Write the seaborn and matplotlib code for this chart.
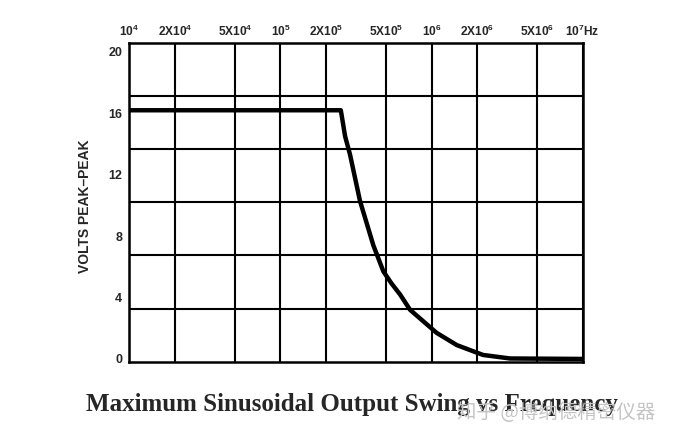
import numpy as np
import pandas as pd
import seaborn as sns
from matplotlib import pyplot as plt
from matplotlib.ticker import FixedLocator, NullLocator

# curve
freq_hz = [1e4, 2.51e5, 2.68e5, 2.89e5, 3.36e5, 4.12e5, 4.80e5, 5.45e5,
           6.19e5, 7.21e5, 1.08e6, 1.47e6, 2.19e6, 3.3e6, 1e7]
volts_pp = [16.2, 16.2, 14.5, 13.3, 10.3, 7.4, 5.7, 4.9,
            4.2, 3.2, 1.7, 0.9, 0.26, 0.03, 0.0]

freq_ticks = [1e4, 2e4, 5e4, 1e5, 2e5, 5e5, 1e6, 2e6, 5e6, 1e7]
freq_labels = ['10$^4$', '2X10$^4$', '5X10$^4$', '10$^5$', '2X10$^5$',
               '5X10$^5$', '10$^6$', '2X10$^6$', '5X10$^6$', '10$^7$Hz']
volt_ticks = [0, 4, 8, 12, 16, 20]

df = pd.DataFrame({'freq': freq_hz, 'volts': volts_pp})

sns.set_style('white')
plt.rcParams['font.family'] = ['Liberation Sans', 'Noto Sans CJK SC', 'DejaVu Sans']
plt.rcParams['mathtext.fontset'] = 'custom'
plt.rcParams['mathtext.rm'] = 'Liberation Sans:bold'
plt.rcParams['mathtext.it'] = 'Liberation Sans:bold'
plt.rcParams['mathtext.bf'] = 'Liberation Sans:bold'

fig = plt.figure(figsize=(6.73, 4.45), dpi=100)
ax = fig.add_axes([0.1921, 0.1872, 0.6737, 0.7168])

sns.lineplot(data=df, x='freq', y='volts', ax=ax, color='black', lw=3.2)

ax.set_xscale('log')
ax.set_xlim(1e4, 1e7)
y_lo, y_hi = -0.18, 20.6
ax.set_ylim(y_lo, y_hi)

# x axis labels on top, grid on every tick
ax.xaxis.tick_top()
ax.xaxis.set_major_locator(FixedLocator(freq_ticks))
ax.xaxis.set_minor_locator(NullLocator())
ax.set_xticklabels(freq_labels, fontsize=8.6, fontweight='bold')
ax.tick_params(axis='x', length=0, pad=3)
ax.grid(axis='x', which='major', color='black', lw=1.5)

# y labels don't sit on the grid rows in the scan: 6 equal rows
ax.yaxis.set_major_locator(FixedLocator(volt_ticks))
ax.set_yticklabels([str(v) for v in volt_ticks], fontsize=9, fontweight='bold')
ax.yaxis.set_minor_locator(FixedLocator(np.linspace(y_lo, y_hi, 7)[1:-1]))
ax.tick_params(axis='y', which='both', length=0, pad=5)
ax.grid(axis='y', which='minor', color='black', lw=1.5)
ax.grid(axis='y', which='major', visible=False)

ax.set_xlabel('')
ax.set_ylabel('VOLTS PEAK–PEAK', fontsize=10, fontweight='bold')
ax.yaxis.set_label_coords(-0.082, 0.488)

for s in ax.spines.values():
    s.set_color('black')
    s.set_linewidth(1.8)

fig.text(86 / 673, 1 - 405 / 445, 'Maximum Sinusoidal Output Swing vs Frequency',
         family='Liberation Serif', fontweight='bold', fontsize=18,
         ha='left', va='center')
fig.text(457 / 673, 1 - 413 / 445, '知乎 @博纳德精密仪器', color='#c4c4c4',
         family=['Noto Sans CJK SC', 'DejaVu Sans'], fontsize=14,
         ha='left', va='center')

fig.savefig('out.png', dpi=100, facecolor='white')
